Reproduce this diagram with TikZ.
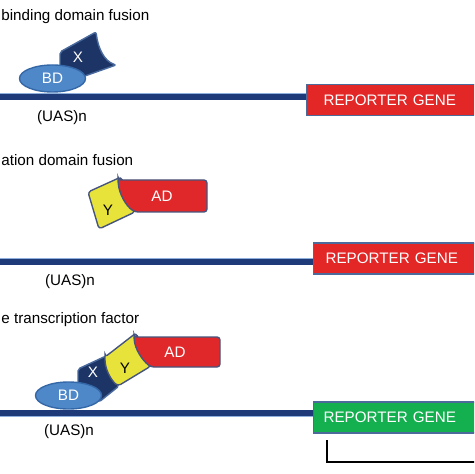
\documentclass[tikz,border=0pt]{standalone}
\usepackage{fontspec}
\setmainfont{Liberation Sans}
\usetikzlibrary{shapes.geometric}

\definecolor{dnanavy}{HTML}{1E3A78}
\definecolor{dnaedge}{HTML}{8FB0DD}
\definecolor{bdfill}{HTML}{4F88C8}
\definecolor{bdedge}{HTML}{3467A8}
\definecolor{xfill}{HTML}{1D3566}
\definecolor{xedge}{HTML}{4A6A9E}
\definecolor{yfill}{HTML}{E8E33A}
\definecolor{partedge}{HTML}{46557E}
\definecolor{adfill}{HTML}{E0282A}
\definecolor{repred}{HTML}{E32626}
\definecolor{repgreen}{HTML}{14B050}
\definecolor{repedge}{HTML}{4C6A9A}

\begin{document}
\begin{tikzpicture}[
    x=0.5pt, y=-0.5pt,
    lbl/.style={font=\fontsize{7.6}{9}\selectfont},
    title/.style={lbl, anchor=base west, inner sep=0pt},
    dna/.style={draw=dnaedge, line width=0.45pt, double=dnanavy, double distance=2.6pt},
    bd/.style={ellipse, draw=bdedge, fill=bdfill, line width=0.7pt, minimum width=33pt,
        minimum height=13.5pt, inner sep=0pt, text=white, lbl},
    xpart/.style={draw=xedge, fill=xfill, line width=0.7pt, rounded corners=1pt},
    ypart/.style={draw=partedge, fill=yfill, line width=0.7pt, rounded corners=1.5pt},
    adpart/.style={draw=partedge, fill=adfill, line width=0.7pt, rounded corners=1.5pt},
    repbox/.style={lbl, anchor=west, draw=repedge, line width=0.6pt, text=white,
        minimum height=15.5pt, text width=80pt, align=left},
    bracket/.style={line width=1pt}
]

\useasboundingbox (0,0) rectangle (474,474);
\clip (0,0) rectangle (474,474);

% DNA-binding domain fusion
\node[title] (ttlbd) at (1,21) {binding domain fusion};
\filldraw[xpart] (60,71) -- (60,52) -- (96,32) .. controls (98,48) and (104,61) .. (116,65) -- (82,77) -- cycle;
\node[lbl, text=white] (xA) at (78,57) {X};
\coordinate (dnaA) at (0,97);
\node[repbox, fill=repred, inner xsep=8.5pt] (repA) at (306,100) {REPORTER GENE};
\draw[dna] (dnaA) -- (dnaA -| repA.west);
\node[bd] (bdA) at (52.5,78.5) {BD};
\node[lbl] (uasA) at (62,118) {(UAS)n};

% activation domain fusion
\node[title] (ttlad) at (1,166) {ation domain fusion};
\filldraw[ypart] (88,192) -- (121,177) -- (135,212) -- (99,229) -- cycle;
\filldraw[adpart] (118,180) -- (207,180) -- (207,212) -- (135,212) .. controls (126,206) and (119,194) .. (118,180) -- cycle;
\node[lbl] (yB) at (108,210) {Y};
\node[lbl, text=white] (adB) at (162,196) {AD};
\coordinate (dnaB) at (0,262);
\node[repbox, fill=repred, inner xsep=6pt] (repB) at (313,258.5) {REPORTER GENE};
\draw[dna] (dnaB) -- (dnaB -| repB.west);
\node[lbl] (uasB) at (70,282) {(UAS)n};

% reconstituted transcription factor
\node[title] (ttltf) at (1,323) {e transcription factor};
\filldraw[xpart] (78,392) -- (78,369) -- (106,356) -- (119,386) -- (99,402) -- cycle;
\filldraw[ypart] (105,357) -- (136,333) -- (151,366) -- (118,386) .. controls (110,379) and (105,368) .. (105,357) -- cycle;
\filldraw[adpart] (134,337) -- (220,337) -- (220,367) -- (151,367) .. controls (142,360) and (135,349) .. (134,337) -- cycle;
\node[lbl, text=white] (xC) at (93,372) {X};
\node[lbl] (yC) at (125,368) {Y};
\node[lbl, text=white] (adC) at (175,352) {AD};
\coordinate (dnaC) at (0,413);
\node[repbox, fill=repgreen, inner xsep=5pt] (repC) at (313,417.5) {REPORTER GENE};
\draw[dna] (dnaC) -- (dnaC -| repC.west);
\node[bd] (bdC) at (68.5,395.5) {BD};
\node[lbl] (uasC) at (69,432) {(UAS)n};

% transcription start
\coordinate (tss) at (327,440);
\draw[bracket] (tss) |- (480,462);

\end{tikzpicture}
\end{document}
